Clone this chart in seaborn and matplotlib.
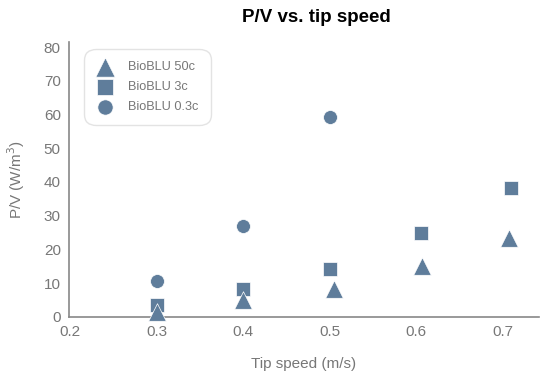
import matplotlib
matplotlib.use("Agg")
import matplotlib.pyplot as plt
import seaborn as sns
import pandas as pd

series = ["BioBLU 50c", "BioBLU 3c", "BioBLU 0.3c"]
x_50c = [0.30, 0.40, 0.505, 0.607, 0.707]
y_50c = [1.5, 5.0, 8.3, 15.1, 23.3]
x_3c = [0.30, 0.40, 0.50, 0.606, 0.71]
y_3c = [3.4, 8.3, 14.3, 24.9, 38.2]
x_03c = [0.30, 0.40, 0.50]
y_03c = [10.7, 26.8, 59.3]

df = pd.concat([
    pd.DataFrame({"x": x_50c, "y": y_50c, "s": series[0]}),
    pd.DataFrame({"x": x_3c, "y": y_3c, "s": series[1]}),
    pd.DataFrame({"x": x_03c, "y": y_03c, "s": series[2]}),
])

sns.set_style("white")
plt.rcParams["font.family"] = ["Liberation Sans", "DejaVu Sans"]
grey = "#777777"
col = "#5f7d9b"

fig = plt.figure(figsize=(5.4, 3.79), dpi=100)
ax = fig.add_axes([0.128, 0.164, 0.87, 0.725])
markers = {series[0]: "^", series[1]: "s", series[2]: "o"}
sizes = {series[0]: 160, series[1]: 100, series[2]: 100}
zorders = {series[0]: 5, series[1]: 4, series[2]: 3}
for s in series:
    sub = df[df["s"] == s]
    sns.scatterplot(data=sub, x="x", y="y", marker=markers[s], s=sizes[s],
                    color=col, edgecolor="white", linewidth=0.5, ax=ax, label=s,
                    zorder=zorders[s], clip_on=False)

ax.set_xlim(0.199, 0.742)
ax.set_ylim(0, 81.5)
ax.set_xticks([0.2, 0.3, 0.4, 0.5, 0.6, 0.7])
ax.set_yticks(range(0, 81, 10))
ax.set_xticklabels(["0.2", "0.3", "0.4", "0.5", "0.6", "0.7"])
for sp in ["top", "right"]:
    ax.spines[sp].set_visible(False)
for sp in ["left", "bottom"]:
    ax.spines[sp].set_color("#888888")
    ax.spines[sp].set_linewidth(1.2)
    ax.spines[sp].set_zorder(1)
ax.tick_params(axis="both", colors=grey, labelsize=11, length=0, pad=6)
ax.set_xlabel("Tip speed (m/s)", color=grey, fontsize=11, labelpad=13)
ax.set_ylabel("P/V (W/m$^3$)", color=grey, fontsize=11, labelpad=12)
fig.suptitle("P/V vs. tip speed", fontsize=13.5, fontweight="bold", y=0.975, x=0.585,
             color="black")

leg = ax.legend(loc="upper left", bbox_to_anchor=(0.032, 0.975), frameon=True,
                fontsize=9.2, labelcolor=grey, borderpad=0.95, handletextpad=1.2,
                handlelength=1.3, labelspacing=0.62, fancybox=True, borderaxespad=0,
                markerscale=1.1)
frame = leg.get_frame()
frame.set_edgecolor("#dddddd")
frame.set_linewidth(1.0)
frame.set_boxstyle("round", pad=0, rounding_size=0.9)

fig.savefig("out.png", dpi=100)
